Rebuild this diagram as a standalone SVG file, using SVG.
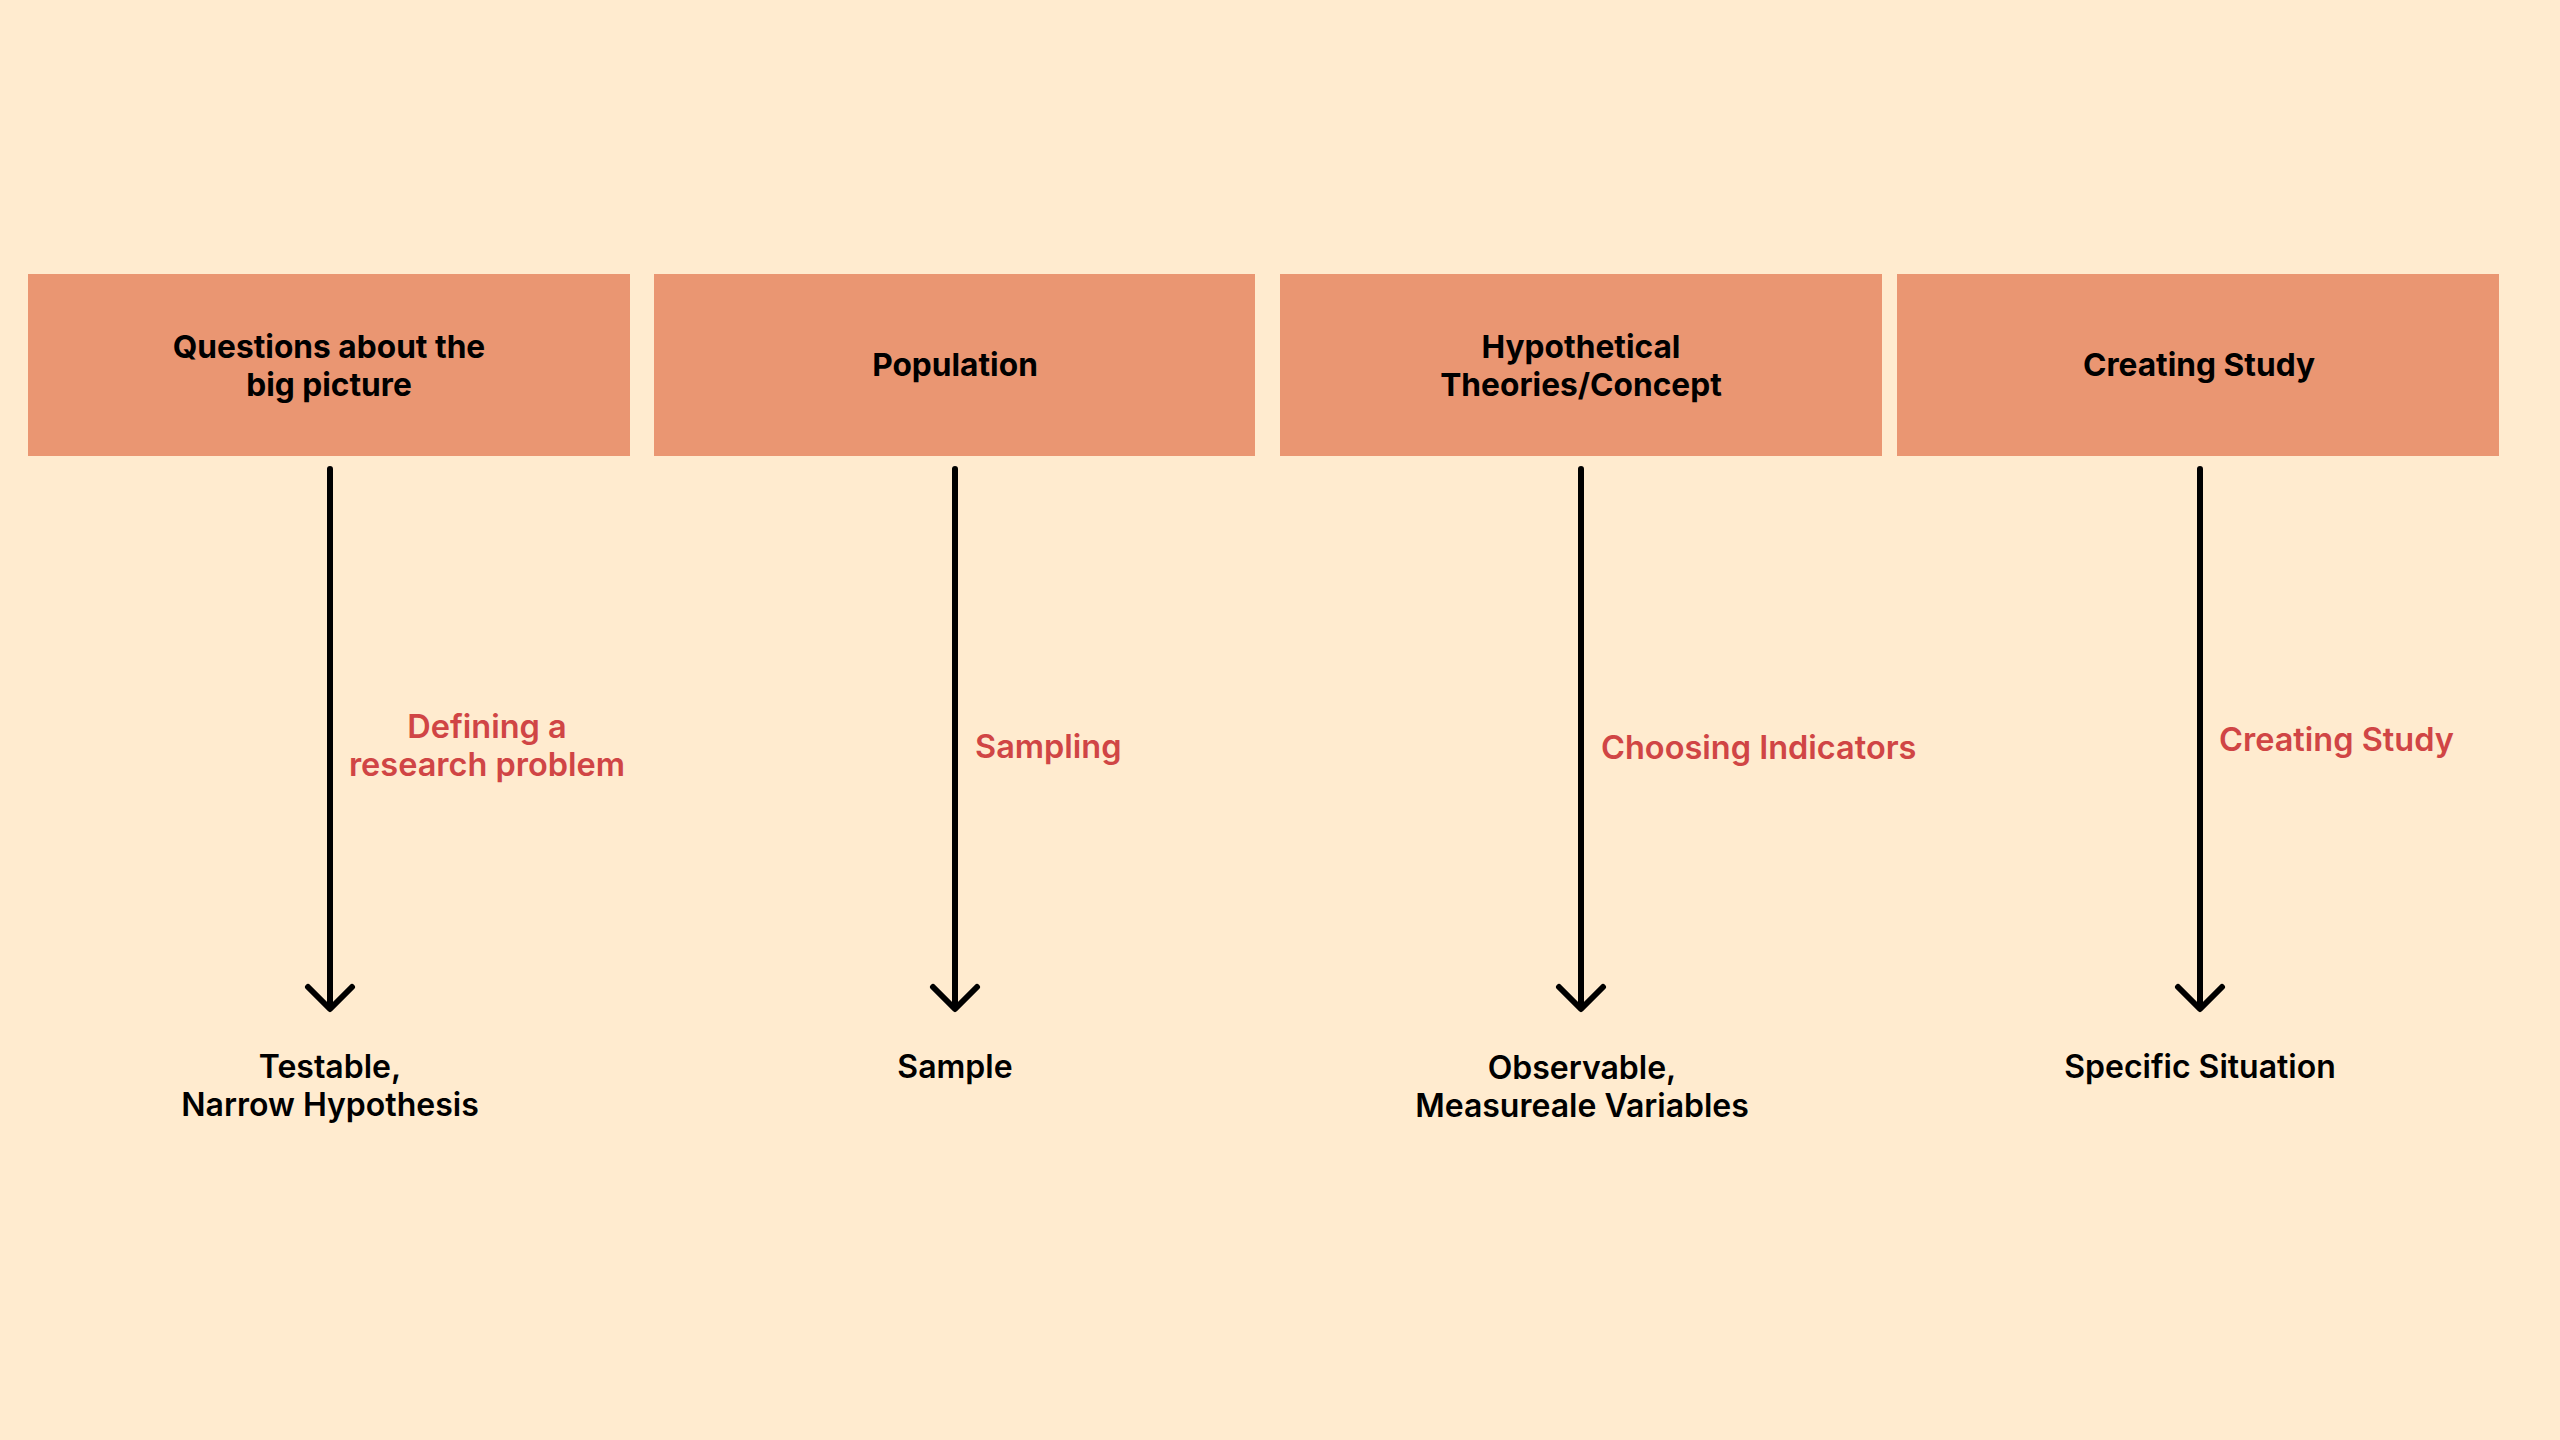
<svg xmlns="http://www.w3.org/2000/svg" width="2560" height="1440" viewBox="0 0 2560 1440">
<defs>
<style>
.box{fill:#EA9672;}
.bt{font-family:Inter,Roboto,"Liberation Sans",sans-serif;font-weight:700;font-size:31.7px;fill:#000;text-anchor:middle;}
.rl{font-family:Inter,Roboto,"Liberation Sans",sans-serif;font-weight:600;font-size:32.5px;fill:#D04545;}
.ot{font-family:Inter,Roboto,"Liberation Sans",sans-serif;font-weight:600;font-size:32px;fill:#000;text-anchor:middle;}
.ln{stroke:#000;stroke-width:6;fill:none;stroke-linecap:round;stroke-linejoin:round;}
</style>
</defs>
<rect width="2560" height="1440" fill="#FFEBCF"/>
<g id="node-questions">
<rect class="box" x="28" y="274" width="602" height="182"/>
<text class="bt" x="329" y="358">Questions about the</text>
<text class="bt" x="329" y="396">big picture</text>
</g>
<g id="node-population">
<rect class="box" x="654" y="274" width="601" height="182"/>
<text class="bt" x="955" y="376">Population</text>
</g>
<g id="node-hypothetical">
<rect class="box" x="1280" y="274" width="602" height="182"/>
<text class="bt" x="1581" y="358">Hypothetical</text>
<text class="bt" x="1581" y="396">Theories/Concept</text>
</g>
<g id="node-creating">
<rect class="box" x="1897" y="274" width="602" height="182"/>
<text class="bt" x="2199" y="376">Creating Study</text>
</g>
<g id="connectors">
<path class="ln" d="M330 469V1008M308 987L330 1009L352 987"/>
<path class="ln" d="M955 469V1008M933 987L955 1009L977 987"/>
<path class="ln" d="M1581 469V1008M1559 987L1581 1009L1603 987"/>
<path class="ln" d="M2200 469V1008M2178 987L2200 1009L2222 987"/>
<text class="rl" x="487" y="738" text-anchor="middle">Defining a</text>
<text class="rl" x="487" y="776" text-anchor="middle">research problem</text>
<text class="rl" x="975" y="758">Sampling</text>
<text class="rl" x="1601" y="759">Choosing Indicators</text>
<text class="rl" x="2219" y="751">Creating Study</text>
</g>
<g id="node-testable">
<text class="ot" x="330" y="1078">Testable,</text>
<text class="ot" x="330" y="1116">Narrow Hypothesis</text>
</g>
<g id="node-sample">
<text class="ot" x="955" y="1078">Sample</text>
</g>
<g id="node-observable">
<text class="ot" x="1582" y="1079">Observable,</text>
<text class="ot" x="1582" y="1117">Measureale Variables</text>
</g>
<g id="node-specific">
<text class="ot" x="2200" y="1078">Specific Situation</text>
</g>
</svg>
